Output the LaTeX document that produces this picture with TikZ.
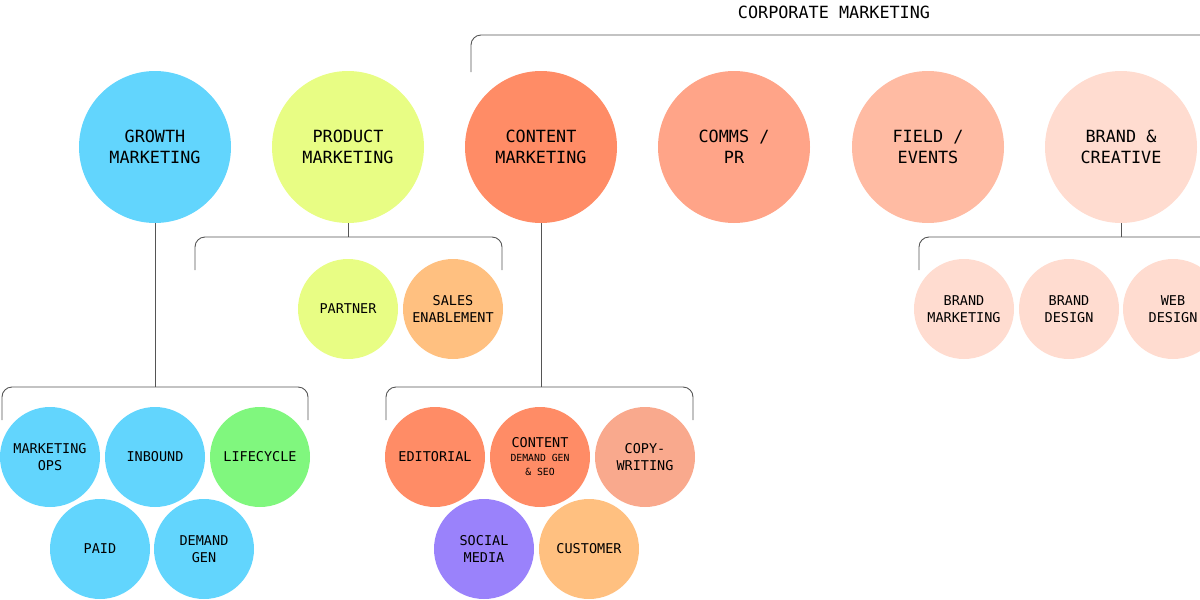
\documentclass[tikz,border=0pt]{standalone}
\usepackage{fontspec}
\setmonofont{DejaVu Sans Mono}
\definecolor{cblue}{HTML}{62D5FD}
\definecolor{cyel}{HTML}{E8FD84}
\definecolor{ccont}{HTML}{FF8C66}
\definecolor{ccomm}{HTML}{FFA488}
\definecolor{cfield}{HTML}{FFBBA3}
\definecolor{cbrand}{HTML}{FFDCD0}
\definecolor{csales}{HTML}{FFC080}
\definecolor{cgreen}{HTML}{80F77E}
\definecolor{cpurp}{HTML}{9A82FB}
\definecolor{ccopy}{HTML}{F9A98D}
\definecolor{cline}{HTML}{555555}
\begin{document}
\begin{tikzpicture}[x=1pt,y=-1pt,
  big/.style={circle,minimum size=152pt,inner sep=0pt,align=center,font=\ttfamily\fontsize{16.8}{21}\selectfont},
  small/.style={circle,minimum size=100pt,inner sep=0pt,align=center,font=\ttfamily\fontsize{13.5}{17}\selectfont},
  br/.style={draw=cline,line width=0.9pt,rounded corners=10pt},
  stem/.style={draw=cline,line width=0.9pt}]
\useasboundingbox (0,0) rectangle (1200,600);
\node[font=\ttfamily\fontsize{16.8}{20}\selectfont] (corp) at (834,12) {CORPORATE MARKETING};
\node[big,fill=cblue] (growth) at (155,147) {GROWTH\\MARKETING};
\node[big,fill=cyel] (product) at (348,147) {PRODUCT\\MARKETING};
\node[big,fill=ccont] (content) at (541,147) {CONTENT\\MARKETING};
\node[big,fill=ccomm] (comms) at (734,147) {COMMS /\\PR};
\node[big,fill=cfield] (field) at (928,147) {FIELD /\\EVENTS};
\node[big,fill=cbrand] (brand) at (1121,147) {BRAND \&\\CREATIVE};
\node[small,fill=cyel] (partner) at (348,309) {PARTNER};
\node[small,fill=csales] (sales) at (453,309) {SALES\\ENABLEMENT};
\node[small,fill=cblue] (mops) at (50,457) {MARKETING\\OPS};
\node[small,fill=cblue] (inbound) at (155,457) {INBOUND};
\node[small,fill=cgreen] (life) at (260,457) {LIFECYCLE};
\node[small,fill=cblue] (paid) at (100,549) {PAID};
\node[small,fill=cblue] (dgen) at (204,549) {DEMAND\\GEN};
\node[small,fill=ccont] (edit) at (435,457) {EDITORIAL};
\node[small,fill=ccont] (cdg) at (540,457) {CONTENT\\[-3pt]{\fontsize{9.8}{13}\selectfont DEMAND GEN}\\[-3pt]{\fontsize{9.8}{13}\selectfont \& SEO}};
\node[small,fill=ccopy] (copy) at (645,457) {COPY-\\WRITING};
\node[small,fill=cpurp] (social) at (484,549) {SOCIAL\\MEDIA};
\node[small,fill=csales] (cust) at (589,549) {CUSTOMER};
\node[small,fill=cbrand] (bm) at (964,309) {BRAND\\MARKETING};
\node[small,fill=cbrand] (bd) at (1069,309) {BRAND\\DESIGN};
\node[small,fill=cbrand] (wd) at (1173,309) {WEB\\DESIGN};
% brackets
\draw[br] (471,72) -- (471,35) -- (1225,35) -- (1225,72);
\draw[stem] (growth.south) -- (155,387);
\draw[br] (2,420) -- (2,387) -- (308,387) -- (308,420);
\draw[stem] (product.south) -- (348,237);
\draw[br] (195,270) -- (195,237) -- (502,237) -- (502,270);
\draw[stem] (content.south) -- (541,387);
\draw[br] (386,420) -- (386,387) -- (693,387) -- (693,420);
\draw[stem] (brand.south) -- (1121,237);
\draw[br] (919,270) -- (919,237) -- (1225,237) -- (1225,270);
\end{tikzpicture}
\end{document}
